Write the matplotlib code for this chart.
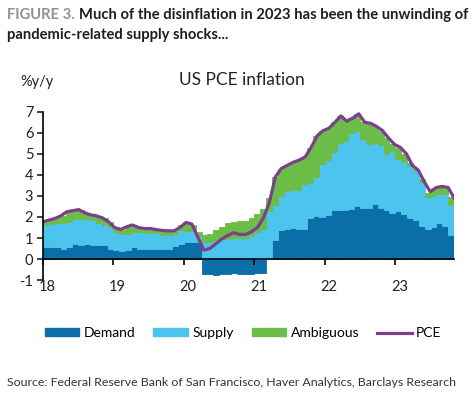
import numpy as np
import matplotlib
matplotlib.use('Agg')
import matplotlib.pyplot as plt
from matplotlib.patches import Patch
from matplotlib.lines import Line2D

plt.rcParams['font.family'] = ['Lato', 'DejaVu Sans']

# monthly data, Jan 2018 - Oct 2023 (%y/y contributions)
demand = [0.55, 0.55, 0.55, 0.50, 0.58, 0.70, 0.65, 0.71, 0.67, 0.66, 0.65, 0.50,
          0.43, 0.40, 0.43, 0.58, 0.47, 0.50, 0.50, 0.50, 0.50, 0.50, 0.62, 0.70,
          0.82, 0.82, 0.80, -0.70, -0.72, -0.75, -0.72, -0.70, -0.65, -0.70, -0.72, -0.70,
          -0.68, -0.65, 0.00, 0.90, 1.37, 1.42, 1.48, 1.42, 1.45, 1.93, 2.05, 2.00,
          2.08, 2.35, 2.32, 2.35, 2.40, 2.50, 2.42, 2.42, 2.60, 2.43, 2.32, 2.20,
          2.29, 2.13, 1.96, 1.85, 1.58, 1.42, 1.53, 1.69, 1.58, 1.14]
supply = [1.05, 1.10, 1.14, 1.22, 1.19, 1.20, 1.25, 1.17, 1.18, 1.06, 0.99, 1.03,
          0.87, 0.78, 0.77, 0.72, 0.81, 0.75, 0.72, 0.72, 0.64, 0.64, 0.56, 0.70,
          0.50, 0.50, 0.30, 0.82, 0.82, 0.90, 0.93, 0.95, 1.00, 1.00, 1.00, 1.10,
          1.30, 1.45, 2.30, 1.65, 1.63, 1.83, 1.79, 1.88, 2.10, 1.67, 1.85, 2.50,
          2.62, 2.75, 3.18, 3.25, 3.60, 3.60, 3.28, 3.03, 2.90, 2.97, 2.68, 2.95,
          2.48, 2.47, 2.44, 2.35, 2.10, 1.53, 1.47, 1.41, 1.52, 1.42]
ambiguous = [0.17, 0.20, 0.24, 0.33, 0.48, 0.40, 0.45, 0.32, 0.25, 0.33, 0.31, 0.24,
             0.20, 0.22, 0.33, 0.32, 0.22, 0.20, 0.23, 0.18, 0.22, 0.20, 0.16, 0.20,
             0.35, 0.30, 0.20, 0.32, 0.38, 0.47, 0.60, 0.74, 0.77, 0.80, 0.80, 0.83,
             0.86, 0.95, 0.60, 1.35, 1.30, 1.20, 1.33, 1.40, 1.30, 1.70, 1.95, 1.60,
             1.52, 1.40, 1.30, 0.95, 0.70, 0.80, 0.80, 1.00, 0.80, 0.70, 0.75, 0.30,
             0.53, 0.40, 0.15, 0.10, 0.10, 0.20, 0.35, 0.30, 0.30, 0.40]
pce = [1.77, 1.85, 1.93, 2.05, 2.25, 2.30, 2.35, 2.20, 2.10, 2.05, 1.95, 1.77,
       1.50, 1.40, 1.53, 1.62, 1.50, 1.45, 1.45, 1.40, 1.36, 1.34, 1.34, 1.50,
       1.74, 1.66, 1.03, 0.43, 0.50, 0.72, 0.95, 1.12, 1.25, 1.17, 1.17, 1.30,
       1.50, 1.95, 2.70, 3.90, 4.30, 4.45, 4.60, 4.70, 4.85, 5.30, 5.85, 6.10,
       6.22, 6.50, 6.80, 6.55, 6.70, 6.90, 6.50, 6.45, 6.30, 6.10, 5.75, 5.45,
       5.30, 5.00, 4.45, 4.22, 3.67, 3.20, 3.40, 3.45, 3.40, 2.90]
year_labels = ['18', '19', '20', '21', '22', '23']

c_dem = '#0b6ea6'
c_sup = '#4cc4ee'
c_amb = '#6cbd48'
c_pce = '#7b3f8e'

demand = np.array(demand)
supply = np.array(supply)
ambiguous = np.array(ambiguous)
n = len(pce)
x = np.arange(n)

fig = plt.figure(figsize=(4.74, 3.99), dpi=100)
ax = fig.add_axes([0.0907, 0.298, 0.8673, 0.422])
renderer = fig.canvas.get_renderer()


def fit_width(txt, width_px):
    # shrink / grow the font so the text spans width_px pixels
    w = txt.get_window_extent(renderer).width
    txt.set_fontsize(txt.get_fontsize() * width_px / w)


pos = np.clip(demand, 0, None)
ax.bar(x, demand, width=1, align='edge', color=c_dem, edgecolor=c_dem, linewidth=0.6)
ax.bar(x, supply, bottom=pos, width=1, align='edge', color=c_sup, edgecolor=c_sup, linewidth=0.6)
ax.bar(x, ambiguous, bottom=pos + supply, width=1, align='edge', color=c_amb, edgecolor=c_amb, linewidth=0.6)
# PCE line runs from the left edge to the right edge of the bars
ax.plot(x * n / (n - 1), pce, color=c_pce, linewidth=2.3, solid_joinstyle='round')

ax.set_xlim(0, n)
ax.set_ylim(-1, 7)
ax.set_yticks(range(-1, 8))
ax.set_yticklabels([str(v) for v in range(-1, 8)])
ax.set_xticks(np.arange(len(year_labels)) * 12)
ax.set_xticklabels([])
ax.spines['top'].set_visible(False)
ax.spines['right'].set_visible(False)
ax.spines['bottom'].set_position(('data', 0))
ax.spines['bottom'].set_linewidth(1.2)
ax.spines['left'].set_linewidth(1.2)
ax.spines['bottom'].set_zorder(5)
ax.tick_params(axis='y', direction='out', length=4, width=1.2, labelsize=10.5, pad=3, colors='#222222')
ax.tick_params(axis='x', direction='out', length=4, width=1.2)
for i, lab in enumerate(year_labels):
    ax.text(i * 12 + 0.7, -1.32, lab, ha='center', va='center', fontsize=10.5, color='#222222')

# title: gray "FIGURE 3." followed by dark text, fitted to the reference width
t1 = fig.text(0.015, 0.962, 'FIGURE 3.', fontsize=11, fontweight='bold', color='#8c9196', va='center')
t2 = fig.text(0.2, 0.962, 'Much of the disinflation in 2023 has been the unwinding of',
              fontsize=11, fontweight='bold', color='#1e1e1e', va='center')
w1 = t1.get_window_extent(renderer).width
w2 = t2.get_window_extent(renderer).width
gap = 4
scale = (459 - gap) / (w1 + w2)
for t in (t1, t2):
    t.set_fontsize(t.get_fontsize() * scale)
w1 = t1.get_window_extent(renderer).width
t2.set_x((7 + w1 + gap) / 474)
t3 = fig.text(0.015, 0.912, 'pandemic-related supply shocks...', fontsize=t1.get_fontsize(),
              fontweight='bold', color='#1e1e1e', va='center')

fig.text(0.042, 0.795, '%y/y', fontsize=10.5, color='#222222', va='center')
fig.text(0.51, 0.80, 'US PCE inflation', fontsize=12.5, color='#222222', va='center', ha='center')

handles = [Patch(color=c_dem, label='Demand'), Patch(color=c_sup, label='Supply'),
           Patch(color=c_amb, label='Ambiguous'), Line2D([], [], color=c_pce, linewidth=2.3, label='PCE')]
fig.legend(handles=handles, loc='center', bbox_to_anchor=(0.513, 0.165), ncol=4, frameon=False,
           fontsize=10, handlelength=2.5, handleheight=0.5, columnspacing=1.3, handletextpad=0.3)

src = fig.text(0.015, 0.042, 'Source: Federal Reserve Bank of San Francisco, Haver Analytics, Barclays Research',
               fontsize=9.6, color='#333333', va='center')
fit_width(src, 455)

fig.savefig('out.png', dpi=100)
